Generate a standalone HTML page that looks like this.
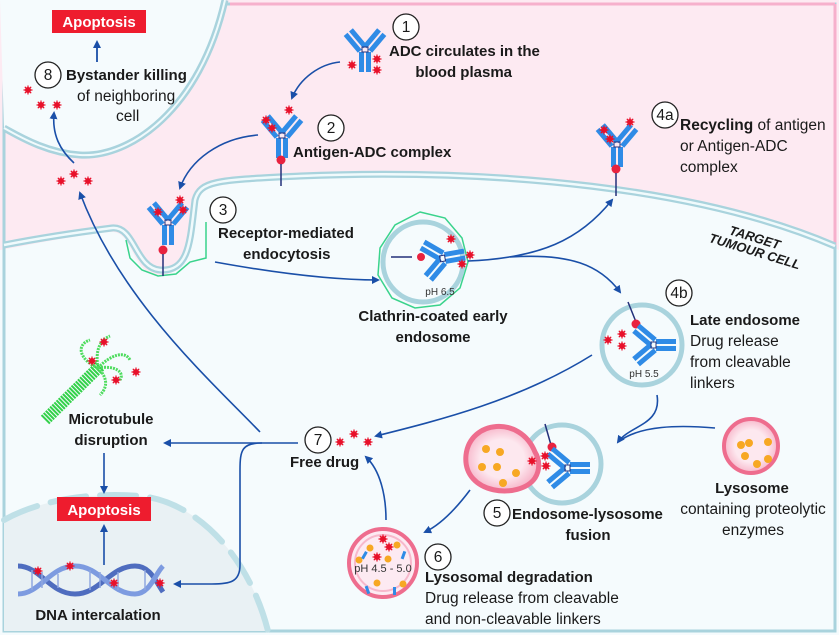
<!DOCTYPE html>
<html><head><meta charset="utf-8"><style>
html,body{margin:0;padding:0;background:#fff}
svg{display:block}
text{font-family:"Liberation Sans",sans-serif;fill:#1a1a1a}
.b{font-weight:bold;font-size:15px}
.n{font-size:15.5px}
</style></head><body>
<svg width="839" height="635" viewBox="0 0 839 635" xmlns="http://www.w3.org/2000/svg">
<defs>
<marker id="ah" markerWidth="8" markerHeight="8" refX="6" refY="4" orient="auto" markerUnits="userSpaceOnUse">
<path d="M0,0 L8,4 L0,8 z" fill="#1a4fa8"/></marker>
<g id="ab">
 <rect x="-6" y="0" width="5" height="20" fill="#2f8be6"/><rect x="1" y="0" width="5" height="20" fill="#2f8be6"/>
 <g transform="rotate(-40)"><rect x="-6" y="-26" width="5" height="22" fill="#2f8be6"/><rect x="1" y="-26" width="5" height="22" fill="#2f8be6"/></g>
 <g transform="rotate(40)"><rect x="-6" y="-26" width="5" height="22" fill="#2f8be6"/><rect x="1" y="-26" width="5" height="22" fill="#2f8be6"/></g>
 <rect x="-3" y="-5" width="6" height="5" fill="none" stroke="#23307a" stroke-width="1"/>
</g>
<g id="st"><circle r="3" fill="#e8102a"/><path d="M-4.5,0H4.5M0,-4.5V4.5M-3.2,-3.2L3.2,3.2M-3.2,3.2L3.2,-3.2" stroke="#e8102a" stroke-width="1.2"/></g>
<radialGradient id="lys" cx="0.5" cy="0.5" r="0.5"><stop offset="0.6" stop-color="#fde8ef"/><stop offset="1" stop-color="#f7b8cb"/></radialGradient>
</defs>

<rect width="839" height="635" fill="#f5fbfd"/>
<path d="M0,0 H839 V250 C700,190 500,170 300,178 C220,182 200,180 196,200 C192,240 190,275 160,275 C130,275 135,230 110,232 C70,236 30,245 0,250 Z" fill="#fdeaf2"/>
<rect x="4" y="4" width="831" height="627" fill="none" stroke="#a9d3dd" stroke-width="3"/>
<line x1="230" y1="4" x2="835" y2="4" stroke="#f6b0cc" stroke-width="3"/>
<line x1="835" y1="4" x2="835" y2="245" stroke="#f6b0cc" stroke-width="3"/>

<path d="M4,245 C40,238 80,232 112,228 C135,226 135,268 160,270 C190,272 190,240 195,200 C200,180 220,180 300,176 C500,168 700,188 835,246" fill="none" stroke="#a9d3dd" stroke-width="7"/>
<path d="M4,245 C40,238 80,232 112,228 C135,226 135,268 160,270 C190,272 190,240 195,200 C200,180 220,180 300,176 C500,168 700,188 835,246" fill="none" stroke="#f0fafc" stroke-width="2.5"/>
<path d="M126,240 L130,258 L142,270 L158,276 L176,274 L190,262 L206,258 L206,222" fill="none" stroke="#3ad38c" stroke-width="1.5"/>

<path d="M0,0 H225 C200,110 130,158 80,155 C50,153 25,140 4,128 Z" fill="#f5fbfd"/>
<path d="M4,128 C25,140 50,153 80,155 C130,158 200,110 225,0" fill="none" stroke="#a9d3dd" stroke-width="7"/>
<path d="M4,128 C25,140 50,153 80,155 C130,158 200,110 225,0" fill="none" stroke="#f0fafc" stroke-width="2"/>

<path d="M4,520 C40,500 90,492 140,496 C200,502 250,560 268,631 L4,631 Z" fill="#e9f1f4"/>
<path d="M4,520 C40,500 90,492 140,496 C200,502 250,560 268,631" fill="none" stroke="#bfe0e7" stroke-width="6" stroke-dasharray="36,14" stroke-linecap="round"/>

<rect x="52" y="10" width="94" height="23" fill="#ee1c2e"/>
<text x="99" y="27" text-anchor="middle" style="font-weight:bold;font-size:15px;fill:#fff">Apoptosis</text>
<line x1="97" y1="62" x2="97" y2="42" stroke="#1a4fa8" stroke-width="1.8" marker-end="url(#ah)"/>
<circle cx="48" cy="75" r="13" fill="#fff" stroke="#222" stroke-width="1.3"/><text x="48" y="80" text-anchor="middle" class="n">8</text>
<text x="66" y="80" class="b">Bystander killing</text>
<text x="77" y="101" class="n">of neighboring</text>
<text x="116" y="121" class="n">cell</text>
<use href="#st" x="28" y="90"/><use href="#st" x="41" y="105"/><use href="#st" x="57" y="105"/>
<use href="#st" x="61" y="181"/><use href="#st" x="74" y="174"/><use href="#st" x="88" y="181"/>
<path d="M74,163 C60,150 52,135 54,113" fill="none" stroke="#1a4fa8" stroke-width="1.6" marker-end="url(#ah)"/>
<path d="M260,432 C210,380 120,300 80,193" fill="none" stroke="#1a4fa8" stroke-width="1.6" marker-end="url(#ah)"/>

<circle cx="406" cy="27" r="13" fill="#fff" stroke="#222" stroke-width="1.3"/><text x="406" y="32" text-anchor="middle" class="n">1</text>
<text x="389" y="56" class="b">ADC circulates in the</text>
<text x="512" y="77" text-anchor="end" class="b">blood plasma</text>
<use href="#ab" x="365" y="52"/>
<use href="#st" x="352" y="65"/><use href="#st" x="377" y="59"/><use href="#st" x="377" y="70"/>
<path d="M340,62 C320,64 300,78 292,98" fill="none" stroke="#1a4fa8" stroke-width="1.6" marker-end="url(#ah)"/>

<circle cx="331" cy="128" r="13" fill="#fff" stroke="#222" stroke-width="1.3"/><text x="331" y="133" text-anchor="middle" class="n">2</text>
<text x="293" y="157" class="b">Antigen-ADC complex</text>
<use href="#ab" x="282" y="138"/>
<circle cx="281" cy="160" r="4.5" fill="#e8223f"/><line x1="281" y1="164" x2="281" y2="186" stroke="#23307a" stroke-width="1.5"/>
<use href="#st" x="266" y="120"/><use href="#st" x="272" y="128"/><use href="#st" x="289" y="110"/>
<path d="M258,135 C220,138 190,160 180,188" fill="none" stroke="#1a4fa8" stroke-width="1.6" marker-end="url(#ah)"/>

<use href="#ab" x="168" y="225"/>
<circle cx="163" cy="250" r="4.5" fill="#e8223f"/><line x1="163" y1="254" x2="163" y2="276" stroke="#23307a" stroke-width="1.5"/>
<use href="#st" x="158" y="212"/><use href="#st" x="180" y="200"/><use href="#st" x="183" y="210"/>
<circle cx="223" cy="210" r="13" fill="#fff" stroke="#222" stroke-width="1.3"/><text x="223" y="215" text-anchor="middle" class="n">3</text>
<text x="218" y="238" class="b">Receptor-mediated</text>
<text x="243" y="259" class="b">endocytosis</text>
<path d="M215,262 C270,272 330,280 378,280" fill="none" stroke="#1a4fa8" stroke-width="1.6" marker-end="url(#ah)"/>

<polygon points="420,212 445,218 462,238 468,262 460,288 440,305 415,308 392,298 378,275 380,248 395,225" fill="none" stroke="#3ad38c" stroke-width="1.5"/>
<circle cx="423" cy="262" r="40" fill="#f5fbfd" stroke="#a9d3dd" stroke-width="5"/>
<line x1="391" y1="257" x2="412" y2="257" stroke="#23307a" stroke-width="1.5"/><circle cx="421" cy="257" r="4" fill="#e8223f"/>
<g transform="translate(445,258) rotate(-100)"><use href="#ab"/></g>
<use href="#st" x="451" y="239"/><use href="#st" x="470" y="255"/><use href="#st" x="462" y="264"/>
<text x="440" y="295" text-anchor="middle" style="font-size:10px;fill:#333">pH 6.5</text>
<text x="433" y="321" text-anchor="middle" class="b">Clathrin-coated early</text>
<text x="433" y="342" text-anchor="middle" class="b">endosome</text>
<path d="M468,261 C540,258 580,240 612,200" fill="none" stroke="#1a4fa8" stroke-width="1.6" marker-end="url(#ah)"/>
<path d="M510,257 C570,253 600,265 620,292" fill="none" stroke="#1a4fa8" stroke-width="1.6" marker-end="url(#ah)"/>

<use href="#ab" x="617" y="147"/>
<circle cx="616" cy="169" r="4.5" fill="#e8223f"/><line x1="616" y1="173" x2="616" y2="196" stroke="#23307a" stroke-width="1.5"/>
<use href="#st" x="604" y="130"/><use href="#st" x="610" y="139"/><use href="#st" x="630" y="122"/>
<circle cx="665" cy="115" r="13" fill="#fff" stroke="#222" stroke-width="1.3"/><text x="665" y="120" text-anchor="middle" class="n">4a</text>
<text x="680" y="130" class="n"><tspan font-weight="bold">Recycling</tspan> of antigen</text>
<text x="680" y="151" class="n">or Antigen-ADC</text>
<text x="680" y="172" class="n">complex</text>
<text x="728" y="243" transform="rotate(17 758 240)" style="font-weight:bold;font-size:13px;font-style:italic">TARGET</text>
<text x="706" y="257" transform="rotate(17 758 257)" style="font-weight:bold;font-size:13px;font-style:italic">TUMOUR CELL</text>

<circle cx="679" cy="293" r="13" fill="#fff" stroke="#222" stroke-width="1.3"/><text x="679" y="298" text-anchor="middle" class="n">4b</text>
<circle cx="642" cy="345" r="40" fill="#f5fbfd" stroke="#a9d3dd" stroke-width="5"/>
<line x1="628" y1="302" x2="636" y2="322" stroke="#23307a" stroke-width="1.5"/><circle cx="636" cy="324" r="4.5" fill="#e8223f"/>
<g transform="translate(656,345) rotate(-90)"><use href="#ab"/></g>
<use href="#st" x="608" y="340"/><use href="#st" x="622" y="334"/><use href="#st" x="622" y="346"/>
<text x="644" y="377" text-anchor="middle" style="font-size:10px;fill:#333">pH 5.5</text>
<text x="690" y="325" class="b">Late endosome</text>
<text x="690" y="346" class="n">Drug release</text>
<text x="690" y="367" class="n">from cleavable</text>
<text x="690" y="388" class="n">linkers</text>
<path d="M592,355 C520,400 440,420 376,436" fill="none" stroke="#1a4fa8" stroke-width="1.6" marker-end="url(#ah)"/>
<path d="M657,395 C662,425 630,425 618,442" fill="none" stroke="#1a4fa8" stroke-width="1.6" marker-end="url(#ah)"/>
<path d="M715,428 C680,425 640,425 618,442" fill="none" stroke="#1a4fa8" stroke-width="1.6"/>

<circle cx="562" cy="464" r="39" fill="#f5fbfd" stroke="#a9d3dd" stroke-width="5"/>
<path d="M535,452 C520,415 470,420 466,455 C462,495 520,500 535,478 C540,470 540,460 535,452 Z" fill="url(#lys)" stroke="#ee6d8e" stroke-width="5"/>
<circle cx="486" cy="449" r="4" fill="#f7a823"/><circle cx="500" cy="452" r="4" fill="#f7a823"/><circle cx="482" cy="467" r="4" fill="#f7a823"/><circle cx="497" cy="467" r="4" fill="#f7a823"/><circle cx="516" cy="473" r="4" fill="#f7a823"/><circle cx="503" cy="483" r="4" fill="#f7a823"/>
<line x1="545" y1="424" x2="551" y2="445" stroke="#23307a" stroke-width="1.5"/><circle cx="552" cy="447" r="4.5" fill="#e8223f"/>
<g transform="translate(570,468) rotate(-90)"><use href="#ab"/></g>
<use href="#st" x="532" y="461"/><use href="#st" x="545" y="456"/><use href="#st" x="546" y="466"/>
<circle cx="497" cy="513" r="13" fill="#fff" stroke="#222" stroke-width="1.3"/><text x="497" y="518" text-anchor="middle" class="n">5</text>
<text x="512" y="519" class="b">Endosome-lysosome</text>
<text x="588" y="540" text-anchor="middle" class="b">fusion</text>

<circle cx="751" cy="446" r="27" fill="url(#lys)" stroke="#ee6d8e" stroke-width="4"/>
<circle cx="741" cy="445" r="4" fill="#f7a823"/><circle cx="749" cy="443" r="4" fill="#f7a823"/><circle cx="768" cy="442" r="4" fill="#f7a823"/><circle cx="745" cy="456" r="4" fill="#f7a823"/><circle cx="768" cy="459" r="4" fill="#f7a823"/><circle cx="757" cy="464" r="4" fill="#f7a823"/>
<text x="752" y="493" text-anchor="middle" class="b">Lysosome</text>
<text x="753" y="514" text-anchor="middle" class="n">containing proteolytic</text>
<text x="753" y="535" text-anchor="middle" class="n">enzymes</text>

<path d="M470,490 C455,510 440,525 425,532" fill="none" stroke="#1a4fa8" stroke-width="1.6" marker-end="url(#ah)"/>
<circle cx="383" cy="563" r="34" fill="#fdeaf2" stroke="#ee6d8e" stroke-width="4"/>
<circle cx="383" cy="563" r="28" fill="none" stroke="#f7b8cb" stroke-width="2"/>
<use href="#st" x="383" y="539"/><use href="#st" x="389" y="547"/><use href="#st" x="377" y="557"/>
<circle cx="370" cy="548" r="3.5" fill="#f7a823"/><circle cx="397" cy="545" r="3.5" fill="#f7a823"/><circle cx="359" cy="560" r="3.5" fill="#f7a823"/><circle cx="388" cy="559" r="3.5" fill="#f7a823"/><circle cx="377" cy="583" r="3.5" fill="#f7a823"/><circle cx="403" cy="584" r="3.5" fill="#f7a823"/>
<rect x="402" y="551" width="3" height="8" fill="#2f8be6" transform="rotate(20 403 555)"/><rect x="366" y="586" width="3" height="8" fill="#2f8be6" transform="rotate(-20 367 590)"/><rect x="393" y="587" width="3" height="8" fill="#2f8be6"/><rect x="363" y="551" width="3" height="8" fill="#2f8be6" transform="rotate(30 364 555)"/>
<text x="383" y="572" text-anchor="middle" style="font-size:11px;fill:#333">pH 4.5 - 5.0</text>
<circle cx="438" cy="557" r="13" fill="#fff" stroke="#222" stroke-width="1.3"/><text x="438" y="562" text-anchor="middle" class="n">6</text>
<text x="425" y="582" class="b">Lysosomal degradation</text>
<text x="425" y="603" class="n">Drug release from cleavable</text>
<text x="425" y="624" class="n">and non-cleavable linkers</text>
<path d="M386,520 C386,495 380,470 366,457" fill="none" stroke="#1a4fa8" stroke-width="1.6" marker-end="url(#ah)"/>

<circle cx="318" cy="440" r="13" fill="#fff" stroke="#222" stroke-width="1.3"/><text x="318" y="445" text-anchor="middle" class="n">7</text>
<text x="290" y="467" class="b">Free drug</text>
<use href="#st" x="340" y="442"/><use href="#st" x="354" y="434"/><use href="#st" x="368" y="442"/>
<path d="M298,443 L165,443" fill="none" stroke="#1a4fa8" stroke-width="1.6" marker-end="url(#ah)"/>
<path d="M262,443 C242,443 240,450 240,470 L240,565 C240,582 230,584 212,584 L175,584" fill="none" stroke="#1a4fa8" stroke-width="1.6" marker-end="url(#ah)"/>

<line x1="45" y1="420" x2="100" y2="366" stroke="#33d14a" stroke-width="12" stroke-dasharray="2,1"/>
<path d="M98,368 C95,350 100,340 110,336 M98,368 C110,355 125,350 130,360 M98,368 C80,360 75,345 90,340 M98,368 C105,375 110,385 100,395 M98,368 C115,365 125,372 120,380" fill="none" stroke="#4edc5e" stroke-width="3" stroke-dasharray="2,1"/>
<use href="#st" x="104" y="342"/><use href="#st" x="92" y="361"/><use href="#st" x="136" y="372"/><use href="#st" x="116" y="380"/>
<text x="111" y="424" text-anchor="middle" class="b">Microtubule</text>
<text x="111" y="445" text-anchor="middle" class="b">disruption</text>
<line x1="104" y1="453" x2="104" y2="492" stroke="#1a4fa8" stroke-width="1.6" marker-end="url(#ah)"/>
<rect x="57" y="497" width="94" height="24" fill="#ee1c2e"/>
<text x="104" y="515" text-anchor="middle" style="font-weight:bold;font-size:15px;fill:#fff">Apoptosis</text>
<line x1="104" y1="565" x2="104" y2="526" stroke="#1a4fa8" stroke-width="1.6" marker-end="url(#ah)"/>

<path d="M18,566 C40,566 50,594 75,594 C100,594 110,566 135,566 C150,566 155,580 163,592" fill="none" stroke="#4f6dbf" stroke-width="5"/>
<path d="M18,594 C40,594 50,566 75,566 C100,566 110,594 135,594 C150,594 155,574 163,566" fill="none" stroke="#7d9be0" stroke-width="5"/>
<g stroke="#8fa7e0" stroke-width="1.5"><line x1="32" y1="570" x2="32" y2="590"/><line x1="42" y1="572" x2="42" y2="588"/><line x1="58" y1="574" x2="58" y2="588"/><line x1="90" y1="570" x2="90" y2="590"/><line x1="100" y1="572" x2="100" y2="588"/><line x1="118" y1="572" x2="118" y2="590"/><line x1="145" y1="570" x2="145" y2="590"/></g>
<use href="#st" x="38" y="571"/><use href="#st" x="70" y="566"/><use href="#st" x="114" y="583"/><use href="#st" x="160" y="583"/>
<text x="98" y="620" text-anchor="middle" class="b">DNA intercalation</text>
</svg>
</body></html>
